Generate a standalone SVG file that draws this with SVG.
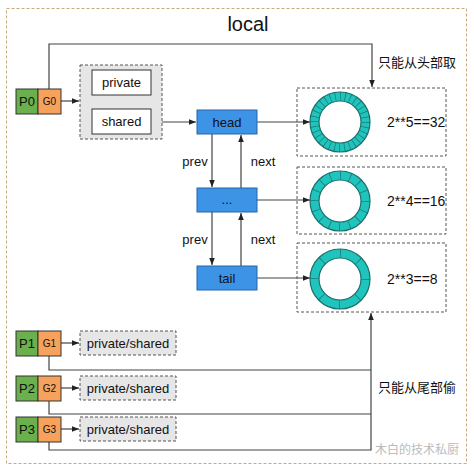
<svg xmlns="http://www.w3.org/2000/svg" width="474" height="470" viewBox="0 0 474 470">
<defs>
<marker id="arr" viewBox="0 0 10 10" refX="10" refY="5" markerWidth="7" markerHeight="7" orient="auto" markerUnits="userSpaceOnUse"><path d="M0,1 L10,5 L0,9 z" fill="#222"/></marker>
<style>
text{font-family:"Liberation Sans","Noto Sans CJK SC",sans-serif;fill:#111}
.cn{font-family:"Noto Sans CJK SC","Liberation Sans",sans-serif;font-size:13px}
.p{fill:#6ab04c;stroke:#333;stroke-width:1}
.g{fill:#f6a25c;stroke:#333;stroke-width:1}
.pt{font-size:13px;text-anchor:middle}
.gt{font-size:10px;text-anchor:middle}
.wb{fill:#fff;stroke:#333;stroke-width:1}
.lb{font-size:13px;text-anchor:middle}
.bl{fill:#3d93e6;stroke:#2664a8;stroke-width:1}
.gb{fill:#e6e6e6;stroke:#555;stroke-width:1;stroke-dasharray:3 2}
.db{fill:none;stroke:#555;stroke-width:1;stroke-dasharray:3 2}
.ln{fill:none;stroke:#444;stroke-width:1.2}
.ring{fill:none;stroke:#1fc4bc;stroke-width:9}
.rb{fill:none;stroke:#1d6f6c;stroke-width:1.2}
.tk{fill:none;stroke:#1d6f6c;stroke-width:9}
.num{font-size:14px}
</style>
</defs>
<rect width="474" height="470" fill="#fff"/>
<rect x="6.5" y="8.5" width="460" height="455" fill="none" stroke="#c9a87c" stroke-width="1" stroke-dasharray="3 2"/>
<text x="248" y="31" font-size="20" text-anchor="middle">local</text>

<g id="connectors">
<path class="ln" d="M49,89 V44 H372 V87" marker-end="url(#arr)"/>
<path class="ln" d="M61,101 H79" marker-end="url(#arr)"/>
<path class="ln" d="M152,122 H196" marker-end="url(#arr)"/>
<path class="ln" d="M257,122 H310" marker-end="url(#arr)"/>
<path class="ln" d="M257,200 H310" marker-end="url(#arr)"/>
<path class="ln" d="M257,278 H310" marker-end="url(#arr)"/>
<path class="ln" d="M212,134 V187" marker-end="url(#arr)"/>
<path class="ln" d="M241,188 V135" marker-end="url(#arr)"/>
<path class="ln" d="M212,212 V265" marker-end="url(#arr)"/>
<path class="ln" d="M241,266 V213" marker-end="url(#arr)"/>
<path class="ln" d="M61,343 H79" marker-end="url(#arr)"/>
<path class="ln" d="M61,388 H79" marker-end="url(#arr)"/>
<path class="ln" d="M61,429 H79" marker-end="url(#arr)"/>
<path class="ln" d="M49,356 V370 H371"/>
<path class="ln" d="M49,401 V414 H371"/>
<path class="ln" d="M49,442 V450 H371 V313" marker-end="url(#arr)"/>
<text x="195" y="166" class="lb">prev</text>
<text x="263" y="166" class="lb">next</text>
<text x="195" y="244" class="lb">prev</text>
<text x="263" y="244" class="lb">next</text>
<text x="378" y="67" class="cn">只能从头部取</text>
<text x="378" y="392" class="cn">只能从尾部偷</text>
</g>

<g id="p0"><rect class="p" x="16" y="89" width="22" height="25"/><text x="27" y="106" class="pt">P0</text></g>
<g id="g0"><rect class="g" x="38" y="89" width="23" height="25"/><text x="49.5" y="105" class="gt">G0</text></g>
<g id="local0">
<rect class="gb" x="80" y="65" width="82" height="74"/>
<g id="private"><rect class="wb" x="92" y="70" width="59" height="25"/><text x="121.5" y="87" class="lb">private</text></g>
<g id="shared"><rect class="wb" x="92" y="109" width="59" height="25"/><text x="121.5" y="126" class="lb">shared</text></g>
</g>

<g id="head"><rect class="bl" x="197" y="110" width="60" height="24"/><text x="227" y="127" class="lb">head</text></g>
<g id="mid"><rect class="bl" x="197" y="188" width="60" height="24"/><text x="227" y="204" class="lb">...</text></g>
<g id="tail"><rect class="bl" x="197" y="266" width="60" height="24"/><text x="227" y="283" class="lb">tail</text></g>

<g id="ring32">
<rect class="db" x="297" y="88" width="149" height="68"/>
<circle class="ring" cx="340" cy="122" r="25.5"/>
<circle class="tk" cx="340" cy="122" r="25.5" pathLength="32" stroke-dasharray="0.13 0.87" stroke-width="9"/>
<circle class="rb" cx="340" cy="122" r="30"/>
<circle class="rb" cx="340" cy="122" r="21"/>
<text x="387" y="127" class="num">2**5==32</text>
</g>
<g id="ring16">
<rect class="db" x="297" y="167" width="149" height="67"/>
<circle class="ring" cx="340" cy="201" r="25.5"/>
<circle class="tk" cx="340" cy="201" r="25.5" pathLength="16" stroke-dasharray="0.07 0.93"/>
<circle class="rb" cx="340" cy="201" r="30"/>
<circle class="rb" cx="340" cy="201" r="21"/>
<text x="387" y="206" class="num">2**4==16</text>
</g>
<g id="ring8">
<rect class="db" x="297" y="243" width="149" height="69"/>
<circle class="ring" cx="340" cy="279" r="25.5"/>
<circle class="tk" cx="340" cy="279" r="25.5" pathLength="8" stroke-dasharray="0.035 0.965"/>
<circle class="rb" cx="340" cy="279" r="30"/>
<circle class="rb" cx="340" cy="279" r="21"/>
<text x="387" y="284" class="num">2**3==8</text>
</g>

<g id="p1"><rect class="p" x="16" y="331" width="22" height="25"/><text x="27" y="348" class="pt">P1</text></g>
<g id="g1"><rect class="g" x="38" y="331" width="23" height="25"/><text x="49.5" y="347" class="gt">G1</text></g>
<g id="ps1"><rect class="gb" x="80" y="331" width="96" height="24"/><text x="128" y="348" class="lb">private/shared</text></g>
<g id="p2"><rect class="p" x="16" y="376" width="22" height="25"/><text x="27" y="393" class="pt">P2</text></g>
<g id="g2"><rect class="g" x="38" y="376" width="23" height="25"/><text x="49.5" y="392" class="gt">G2</text></g>
<g id="ps2"><rect class="gb" x="80" y="376" width="96" height="24"/><text x="128" y="393" class="lb">private/shared</text></g>
<g id="p3"><rect class="p" x="16" y="417" width="22" height="25"/><text x="27" y="434" class="pt">P3</text></g>
<g id="g3"><rect class="g" x="38" y="417" width="23" height="25"/><text x="49.5" y="433" class="gt">G3</text></g>
<g id="ps3"><rect class="gb" x="80" y="417" width="96" height="24"/><text x="128" y="434" class="lb">private/shared</text></g>

<text x="375" y="454" font-size="12" style="fill:#bbb;font-family:'Noto Sans CJK SC',sans-serif">木白的技术私厨</text>
</svg>
